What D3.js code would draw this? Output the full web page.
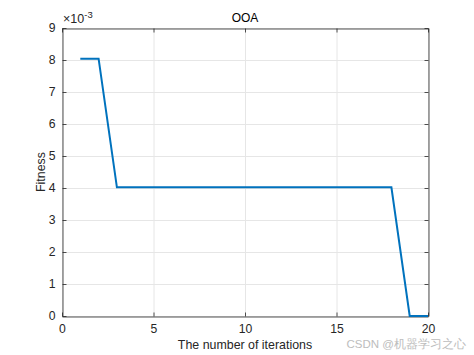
<!DOCTYPE html>
<html><head><meta charset="utf-8">
<script src="https://cdn.jsdelivr.net/npm/d3@7"></script>
<style>body{margin:0;background:#fff}svg{display:block}text{font-family:"Liberation Sans",Arial,sans-serif}</style>
</head><body>
<svg id="c" width="474" height="355"></svg>
<script>
const iterations = [1,2,3,4,5,6,7,8,9,10,11,12,13,14,15,16,17,18,19,20];
const fitness = [8.04,8.04,4.02,4.02,4.02,4.02,4.02,4.02,4.02,4.02,4.02,4.02,4.02,4.02,4.02,4.02,4.02,4.02,0,0]; // x 1e-3
const xTicks = [0,5,10,15,20];
const yTicks = [0,1,2,3,4,5,6,7,8,9];

const svg = d3.select("#c");
const L=62,R=428,T=28,B=316;
const x = d3.scaleLinear().domain([0,20]).range([L,R]);
const y = d3.scaleLinear().domain([0,9]).range([B,T]);
const axisCol="#262626", gridCol="#e6e6e6";

svg.append("rect").attr("x",L).attr("y",T).attr("width",R-L).attr("height",B-T).attr("fill","#fff");
// grid
svg.append("g").selectAll("line").data(xTicks).join("line")
  .attr("x1",d=>x(d)+0.5).attr("x2",d=>x(d)+0.5).attr("y1",T).attr("y2",B).attr("stroke",gridCol);
svg.append("g").selectAll("line").data(yTicks).join("line")
  .attr("y1",d=>Math.round(y(d))+0.5).attr("y2",d=>Math.round(y(d))+0.5).attr("x1",L).attr("x2",R).attr("stroke",gridCol);

// axes
const tl=4;
const gx=svg.append("g").attr("transform",`translate(0,${B+0.5})`)
  .call(d3.axisBottom(x).tickValues(xTicks).tickSize(-tl).tickPadding(8).tickSizeOuter(0));
const gxt=svg.append("g").attr("transform",`translate(0,${T+0.5})`)
  .call(d3.axisTop(x).tickValues(xTicks).tickSize(-tl).tickFormat("").tickSizeOuter(0));
const gy=svg.append("g").attr("transform",`translate(${L+0.5},0)`)
  .call(d3.axisLeft(y).tickValues(yTicks).tickSize(-tl).tickPadding(7).tickSizeOuter(0));
const gyr=svg.append("g").attr("transform",`translate(${R+0.5},0)`)
  .call(d3.axisRight(y).tickValues(yTicks).tickSize(-tl).tickFormat("").tickSizeOuter(0));
[gx,gxt,gy,gyr].forEach(g=>{
  g.select(".domain").attr("stroke",axisCol).attr("stroke-width",0.8);
  g.selectAll(".tick line").attr("stroke",axisCol).attr("stroke-width",0.8);
  g.selectAll(".tick text").attr("fill",axisCol).attr("font-size",12.2).attr("font-family","Liberation Sans, Arial, sans-serif");
});

// line
svg.append("path").datum(iterations.map((d,i)=>[d,fitness[i]]))
  .attr("fill","none").attr("stroke","#0072BD").attr("stroke-width",2)
  .attr("d",d3.line().x(d=>x(d[0])).y(d=>y(d[1])));

// exponent
const ex=svg.append("text").attr("x",L+1).attr("y",T-5).attr("fill",axisCol).attr("font-size",12.5);
ex.append("tspan").text("×10");
ex.append("tspan").attr("dy",-5).attr("font-size",9.5).text("-3");

// title and labels
svg.append("text").attr("x",(L+R)/2).attr("y",21.5).attr("text-anchor","middle").attr("fill","#000").attr("font-size",12).text("OOA");
svg.append("text").attr("x",(L+R)/2).attr("y",349).attr("text-anchor","middle").attr("fill",axisCol).attr("font-size",12.4).text("The number of iterations");
svg.append("text").attr("transform",`translate(44.5,${(T+B)/2}) rotate(-90)`).attr("text-anchor","middle").attr("fill",axisCol).attr("font-size",12.4).text("Fitness");
svg.append("text").attr("x",466).attr("y",348).attr("text-anchor","end").attr("fill","#bdbdbd").attr("font-size",11.5)
  .attr("font-family","Noto Sans CJK SC, sans-serif").text("CSDN @机器学习之心");
</script>
</body></html>
